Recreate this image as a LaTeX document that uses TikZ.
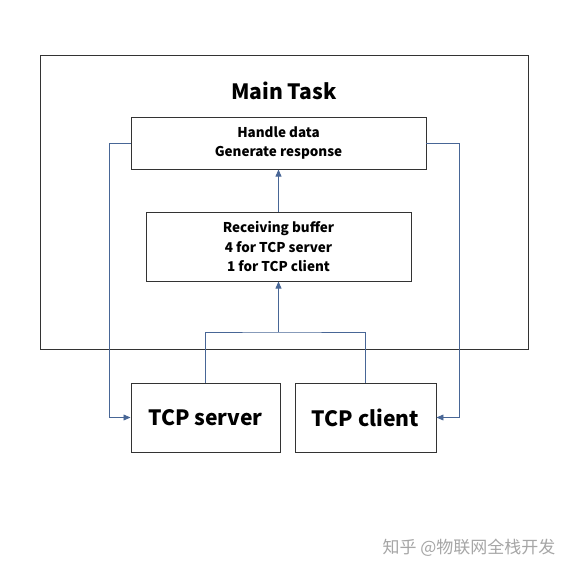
\documentclass[tikz,border=0pt]{standalone}
\usepackage{fontspec}
\setmainfont{Noto Sans CJK SC}
\usetikzlibrary{positioning, arrows.meta}
\definecolor{linkblue}{RGB}{72,102,150}

\begin{document}
\begin{tikzpicture}[x=0.03cm, y=-0.03cm,
   box/.style = {draw=black!80, line width=0.8pt, inner sep=0pt, align=center},
   small/.style = {font=\fontsize{11.5}{16.5}\selectfont\bfseries},
   large/.style = {font=\fontsize{18}{20}\selectfont\bfseries},
   conn/.style = {draw=linkblue, line width=0.8pt},
      arrow/.style = {conn, -{Triangle[length=6pt,width=5pt]}}
                        ]
\useasboundingbox[fill=white] (0,0) rectangle (572,574);
\draw[box] (40,55) rectangle (528,349);% main task frame
\node (title) [large] at (284,91) {Main Task};
\node (handle) [box, small, minimum width=295*0.03cm, minimum height=52*0.03cm]
      at (278.5,143) {Handle data\\Generate response};
\node (recv) [box, small, minimum width=265*0.03cm, minimum height=69*0.03cm]
      at (278.5,246.5) {Receiving buffer\\4 for TCP server\\1 for TCP client};
\node (server) [box, large, minimum width=149*0.03cm, minimum height=69*0.03cm]
      at (205.5,417.5) {TCP server};
\node (client) [box, large, minimum width=141*0.03cm, minimum height=69*0.03cm]
      at (365.5,417.5) {TCP client};
\coordinate (bus) at (recv.south |- 0,332);
% connectors
\draw [arrow] (recv.north) -- (handle.south);
\draw [arrow] (bus) -- (recv.south);
\draw [conn] (server.north) |- (bus) -| (client.north);
\draw [arrow] (handle.west) -- ++(-21,0) |- (server.west);
\draw [arrow] (handle.east) -- ++(32.5,0) |- (client.east);
\node (mark) [text=black!35, font=\fontsize{14.5}{16}\selectfont] at (469,548) {知乎 @物联网全栈开发};
\end{tikzpicture}
\end{document}
